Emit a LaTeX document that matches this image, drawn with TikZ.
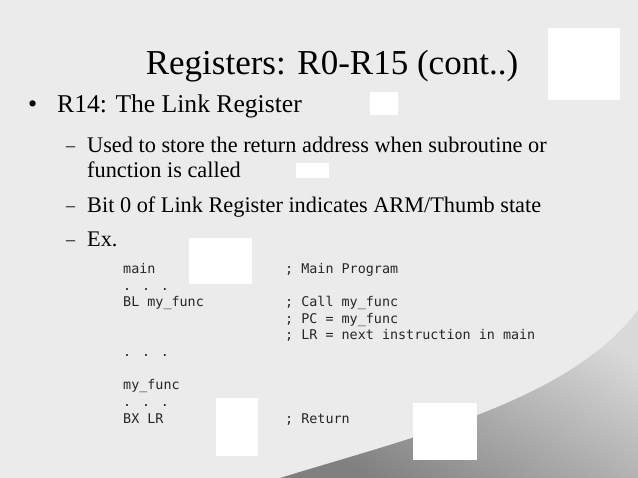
\documentclass[tikz,border=0pt]{standalone}
\usepackage{fontspec}
\setmainfont{Liberation Serif}
\newfontfamily\codefont{DejaVu Sans Mono}
\begin{document}
\begin{tikzpicture}[x=1pt,y=-1pt,
  txt/.style={anchor=base west,inner sep=0pt,font=\fontsize{22.3}{22.3}\selectfont},
  code/.style={anchor=base west,inner sep=0pt,font=\codefont\fontsize{13.4}{13.4}\selectfont,text=black!85},
  blank/.style={fill=white,draw=none}]
\useasboundingbox (0,0) rectangle (638,478);
\fill[black!8] (0,0) rectangle (638,478);
\shade[top color=black!15,bottom color=black!50,shading angle=-30]
  (280,478) .. controls (420,435) and (570,400) .. (638,310) -- (638,478) -- cycle;
\fill[blank] (548,28) rectangle (620,100);
\fill[blank] (370,92) rectangle (398,115);
\fill[blank] (296,163) rectangle (329,178);
\fill[blank] (189,238) rectangle (252,284);
\fill[blank] (216,398) rectangle (258,456);
\fill[blank] (413,403) rectangle (477,460);
\node[anchor=base,inner sep=0pt,font=\fontsize{35}{35}\selectfont] (title) at (332,75) {Registers: R0-R15 (cont..)};
\node[txt,font=\fontsize{26}{26}\selectfont] (b1) at (28,113) {•};
\node[txt,font=\fontsize{25.6}{25.6}\selectfont] (t1) at (57,113) {R14: The Link Register};
\node[txt,font=\fontsize{18}{18}\selectfont] (d1) at (66,152) {–};
\node[txt] (s1) at (87,153) {Used to store the return address when subroutine or};
\node[txt] (s1b) at (87,178) {function is called};
\node[txt,font=\fontsize{18}{18}\selectfont] (d2) at (66,212) {–};
\node[txt] (s2) at (87,213) {Bit 0 of Link Register indicates ARM/Thumb state};
\node[txt,font=\fontsize{18}{18}\selectfont] (d3) at (66,246) {–};
\node[txt] (s3) at (87,247) {Ex.};
\node[code] (c1) at (123,274) {main};
\node[code] (k1) at (285,274) {; Main Program};
\node[code] (c2) at (123,291) {. . .};
\node[code] (c3) at (123,307) {BL my\_func};
\node[code] (k3) at (285,307) {; Call my\_func};
\node[code] (k4) at (285,324) {; PC = my\_func};
\node[code] (k5) at (285,340) {; LR = next instruction in main};
\node[code] (c6) at (123,357) {. . .};
\node[code] (c7) at (123,390) {my\_func};
\node[code] (c8) at (123,407) {. . .};
\node[code] (c9) at (123,424) {BX LR};
\node[code] (k9) at (285,424) {; Return};
\end{tikzpicture}
\end{document}
